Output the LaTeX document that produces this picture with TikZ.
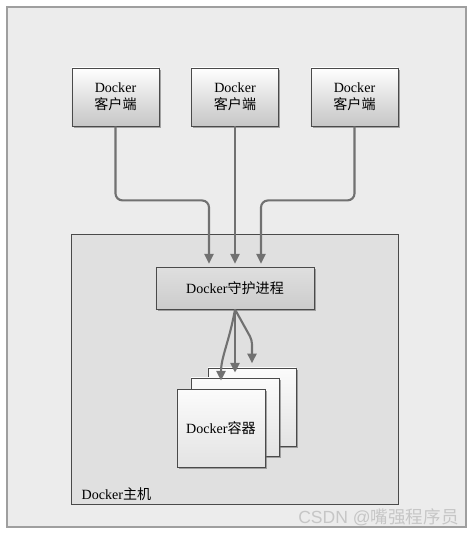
\documentclass[tikz,border=0pt]{standalone}
\usepackage{fontspec}
\setmainfont{Liberation Serif}
\newfontfamily\cjk{Noto Sans CJK SC}
\newfontfamily\wmfont{Liberation Sans}
\usetikzlibrary{arrows.meta,shadows,calc}

\definecolor{framegray}{HTML}{ECECEC}
\definecolor{hostgray}{HTML}{E0E0E0}
\definecolor{linkgray}{HTML}{717171}
\definecolor{edgegray}{HTML}{4A4A4A}

\tikzset{
  box/.style={draw=edgegray, line width=0.6pt, inner sep=2pt, align=center,
    drop shadow={shadow xshift=1.2pt, shadow yshift=-1.4pt, fill=black!60, opacity=0.55}},
  client/.style={box, top color=white, bottom color=gray!45,
    minimum width=2.175cm, minimum height=1.45cm},
  daemon/.style={box, top color=gray!25, bottom color=gray!40,
    minimum width=3.95cm, minimum height=1.05cm},
  container/.style={box, top color=gray!3, bottom color=gray!22,
    minimum width=2.2cm, minimum height=1.95cm},
  host/.style={draw=edgegray, line width=0.7pt, fill=hostgray,
    minimum width=8.15cm, minimum height=6.725cm,
    drop shadow={shadow xshift=0.8pt, shadow yshift=-0.8pt, fill=black!50, opacity=0.5}},
  link/.style={draw=linkgray, line width=1.5pt,
    -{Triangle[length=7pt,width=6.5pt]}}
}

\begin{document}
\begin{tikzpicture}[x=0.025cm, y=0.025cm]
  \useasboundingbox (0,0) rectangle (474,534);

  % outer frame
  \draw[draw=gray!75, line width=1pt, fill=framegray] (7,7) rectangle (466,527);

  % docker host
  \node[host] (host) at (235,164.5) {};
  \node[anchor=base west, inner sep=0pt] (hostlbl) at ($(host.south west)+(10,5)$) {Docker{\cjk 主机}};

  % clients
  \node[client] (cl1) at (115.5,437) {Docker\\{\cjk 客户端}};
  \node[client] (cl2) at (235,437) {Docker\\{\cjk 客户端}};
  \node[client] (cl3) at (354.5,437) {Docker\\{\cjk 客户端}};

  % daemon
  \node[daemon] (dmn) at (235,246) {Docker{\cjk 守护进程}};

  % containers, back to front
  \node[container] (ctr3) at (252,127) {};
  \node[container] (ctr2) at (235,117) {};
  \node[container] (ctr1) at (221,105.5) {Docker{\cjk 容器}};

  % client -> daemon
  \draw[link, rounded corners=5pt, shorten >=2pt] (cl1.south) -- ++(0,-74) -| ($(dmn.north)+(-26,0)$);
  \draw[link, shorten >=2pt] (cl2.south) -- (dmn.north);
  \draw[link, rounded corners=5pt, shorten >=2pt] (cl3.south) -- ++(0,-74) -| ($(dmn.north)+(26,0)$);

  % daemon -> containers
  \draw[link, shorten >=6pt] (dmn.south) to[out=-100, in=90] (ctr1.north);
  \draw[link, shorten >=3.5pt] (dmn.south) -- (ctr2.north);
  \draw[link, shorten >=3pt, rounded corners=3pt] (dmn.south) -- (252,194) -- (ctr3.north);

  % watermark
  \node[anchor=east, inner sep=0pt, text=gray!45, font=\fontsize{12.5}{14}\selectfont] (mark) at (459,17) {{\wmfont CSDN @}{\cjk 嘴强程序员}};
\end{tikzpicture}
\end{document}
